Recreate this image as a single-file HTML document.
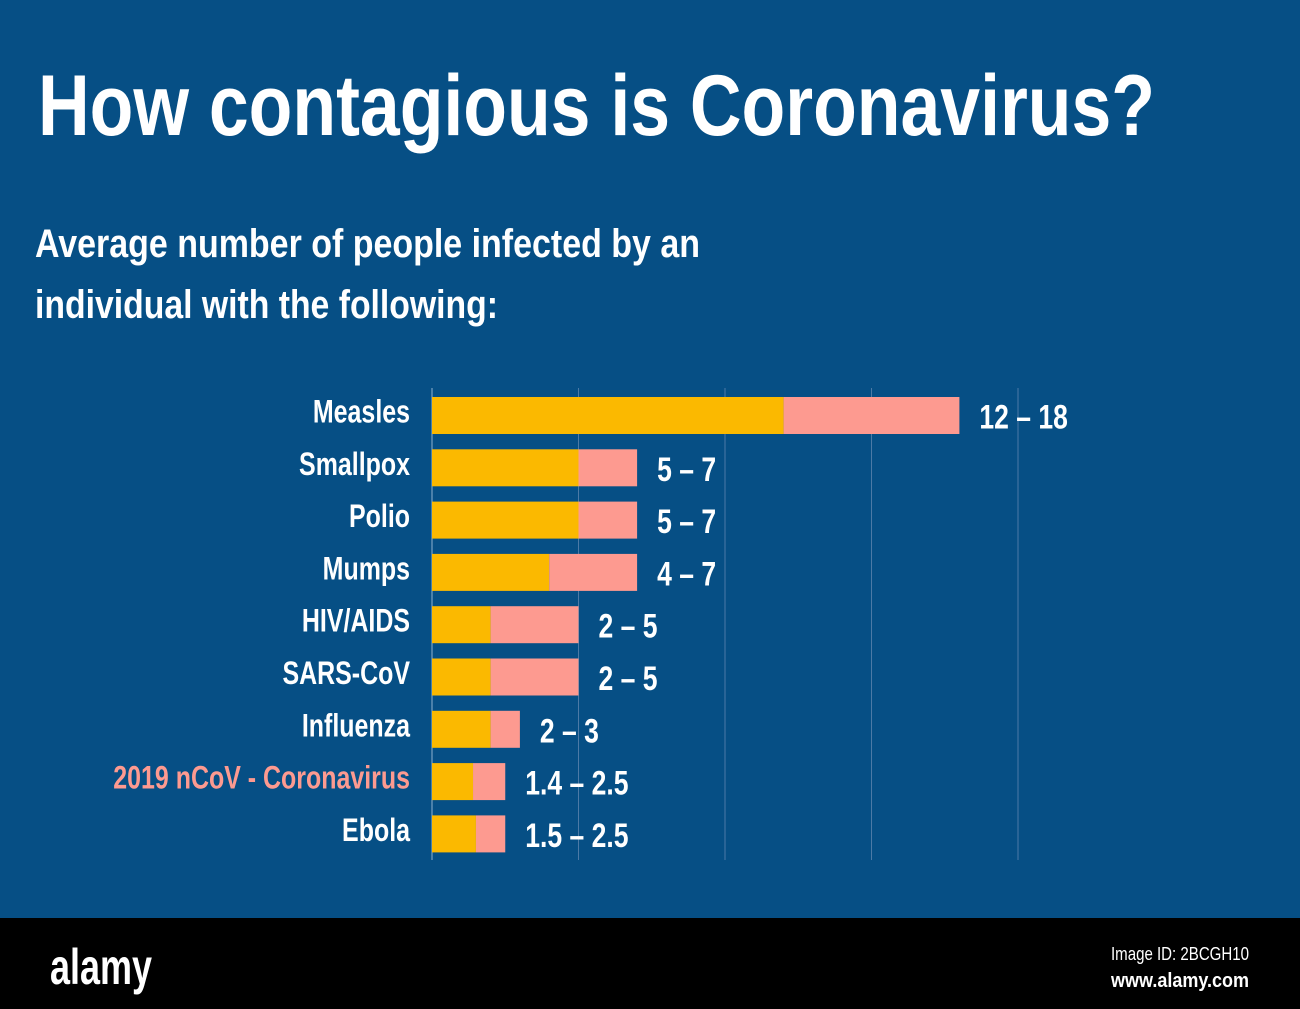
<!DOCTYPE html>
<html><head><meta charset="utf-8"><style>
html,body{margin:0;padding:0;background:#064f85;}
svg{display:block;}
text{font-family:"Liberation Sans",sans-serif;font-weight:bold;}
</style></head><body>
<svg id="c" width="1300" height="1009" viewBox="0 0 1300 1009">
<rect x="0" y="0" width="1300" height="918" fill="#064f85"/>
<text x="38" y="135" font-size="86" fill="#fff" textLength="1117" lengthAdjust="spacingAndGlyphs">How contagious is Coronavirus?</text>
<text x="35" y="257" font-size="40" fill="#fff" textLength="665" lengthAdjust="spacingAndGlyphs">Average number of people infected by an</text>
<text x="35" y="318" font-size="40" fill="#fff" textLength="463" lengthAdjust="spacingAndGlyphs">individual with the following:</text>
<g id="grid"></g>
<g id="bars"></g>
<rect x="0" y="918" width="1300" height="91" fill="#000"/>
<text x="50" y="984" font-size="50" fill="#fff" textLength="102" lengthAdjust="spacingAndGlyphs">alamy</text>
<text x="1249" y="960" font-size="18" fill="#fff" text-anchor="end" textLength="138" lengthAdjust="spacingAndGlyphs" style="font-weight:normal">Image ID: 2BCGH10</text>
<text x="1249" y="987" font-size="20" fill="#fff" text-anchor="end" textLength="138" lengthAdjust="spacingAndGlyphs">www.alamy.com</text>
</svg>
<script>
const categories=["Measles","Smallpox","Polio","Mumps","HIV/AIDS","SARS-CoV","Influenza","2019 nCoV - Coronavirus","Ebola"];
const lowValues=[12,5,5,4,2,2,2,1.4,1.5];
const highValues=[18,7,7,7,5,5,3,2.5,2.5];
const valueLabels=["12 – 18","5 – 7","5 – 7","4 – 7","2 – 5","2 – 5","2 – 3","1.4 – 2.5","1.5 – 2.5"];
const gridTicks=[0,5,10,15,20];
const NS="http://www.w3.org/2000/svg";
const x=v=>432+v*29.3;
const rowY=i=>397+i*52.3;
const bh=37;
function mk(t,a,p){const e=document.createElementNS(NS,t);for(const k in a)e.setAttribute(k,a[k]);p.appendChild(e);return e;}
const grid=document.getElementById('grid');
gridTicks.forEach((t,i)=>{
 const l=mk('line',{x1:x(t),x2:x(t),y1:388,y2:860,stroke:i===0?'#8fb0cf':'#4c7aa6','stroke-width':1},grid);
 
 
});
const bars=document.getElementById('bars');
categories.forEach((c,i)=>{
 const y=rowY(i);
 const g=mk('g',{},bars);
 
 
 const r1=mk('rect',{x:x(0),y:y,width:x(lowValues[i])-x(0),height:bh,fill:'#fbb900'},g);
 
 
 const r2=mk('rect',{x:x(lowValues[i]),y:y,width:x(highValues[i])-x(lowValues[i]),height:bh,fill:'#fd9a90'},g);
 
 
 const lg=mk('g',{transform:'translate(410,'+(y+bh/2+7)+') scale(0.78,1)'},g);
 const t=mk('text',{x:0,y:0,'font-size':32,fill:i===7?'#fd9a90':'#fff','text-anchor':'end'},lg);
 t.textContent=c;
 
 
 const vg=mk('g',{transform:'translate('+(x(highValues[i])+20)+','+(y+bh/2+13)+') scale(0.78,1)'},g);
 const v=mk('text',{x:0,y:0,'font-size':34,fill:'#fff'},vg);
 v.textContent=valueLabels[i];
 
 
});
</script>
</body></html>
